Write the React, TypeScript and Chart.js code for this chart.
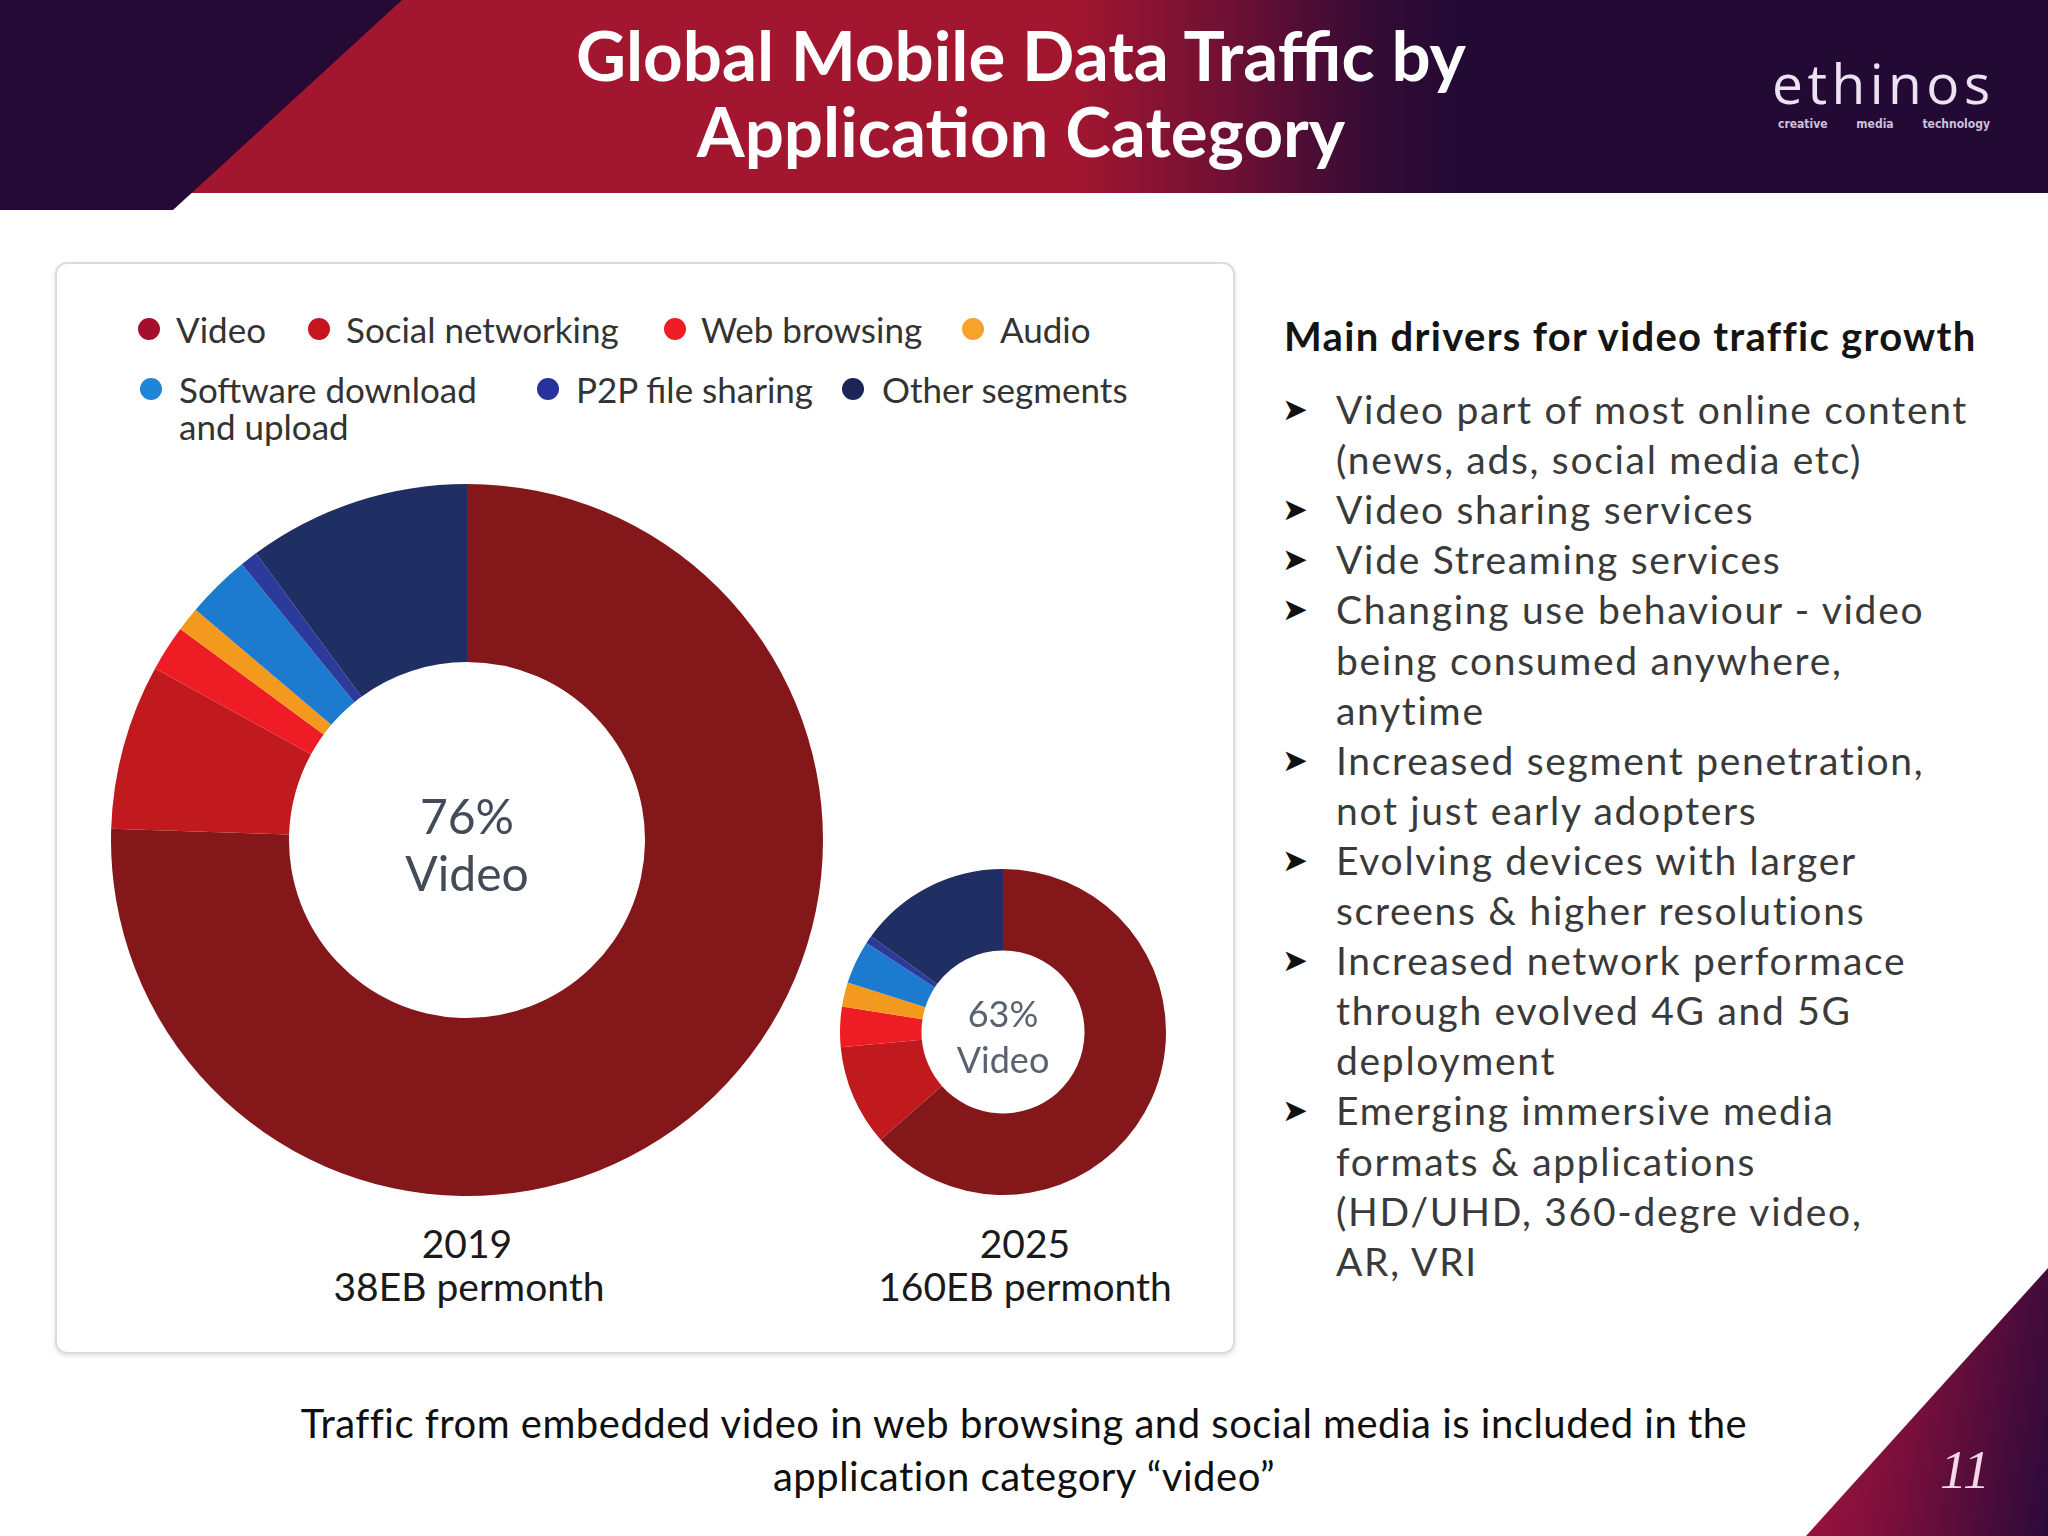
import React, { useEffect, useRef } from "react";
import { Chart, registerables } from "chart.js";

Chart.register(...registerables);

// ---------- Data ----------
const categories = [
  "Video",
  "Social networking",
  "Web browsing",
  "Audio",
  "Software download and upload",
  "P2P file sharing",
  "Other segments",
];
const legendLines = [
  ["Video"],
  ["Social networking"],
  ["Web browsing"],
  ["Audio"],
  ["Software download", "and upload"],
  ["P2P file sharing"],
  ["Other segments"],
];
const values2019 = [75.5, 7.5, 2.1, 1.1, 2.9, 0.8, 10.1];
const values2025 = [63.5, 10.0, 4.0, 2.4, 4.3, 0.8, 15.0];
const sliceColors = ["#84171a", "#c0191e", "#ee1c25", "#f39a1e", "#1d7bcf", "#2c3a9c", "#1f2f63"];
const legendColors = ["#a50f2d", "#c4161c", "#ee1d24", "#f7a22a", "#1f85d6", "#27329c", "#1b2556"];
const years = ["2019", "2025"];
const volumes = ["38EB permonth", "160EB permonth"];
const centerPercents = ["76%", "63%"];
const centerWord = "Video";

const titleLines = ["Global Mobile Data Traffic by", "Application Category"];
const driversHeading = "Main drivers for video traffic growth";
const drivers = [
  ["Video part of most online content", "(news, ads, social media etc)"],
  ["Video sharing services"],
  ["Vide Streaming services"],
  ["Changing use behaviour - video", "being consumed anywhere,", "anytime"],
  ["Increased segment penetration,", "not just early adopters"],
  ["Evolving devices with larger", "screens & higher resolutions"],
  ["Increased network performace", "through evolved 4G and 5G", "deployment"],
  ["Emerging immersive media", "formats & applications", "(HD/UHD, 360-degre video,", "AR, VRI"],
];
const footerLines = [
  "Traffic from embedded video in web browsing and social media is included in the",
  "application category \u201Cvideo\u201D",
];
const pageNumber = "11";

// ---------- Components ----------
type DonutProps = { values: number[]; cx: number; cy: number; r: number };

function Donut({ values, cx, cy, r }: DonutProps) {
  const ref = useRef<HTMLCanvasElement | null>(null);
  useEffect(() => {
    if (!ref.current) return;
    const chart = new Chart(ref.current, {
      type: "doughnut",
      data: {
        labels: categories,
        datasets: [
          {
            data: values,
            backgroundColor: sliceColors,
            borderWidth: 0,
          },
        ],
      },
      options: {
        responsive: false,
        animation: false,
        devicePixelRatio: 1,
        cutout: "50%",
        events: [],
        layout: { padding: 0 },
        plugins: { legend: { display: false }, tooltip: { enabled: false } },
      },
    });
    return () => chart.destroy();
  }, []);
  return (
    <canvas
      ref={ref}
      width={2 * r}
      height={2 * r}
      style={{ position: "absolute", left: cx - r, top: cy - r, width: 2 * r, height: 2 * r }}
    />
  );
}

function CText({
  text,
  cx,
  cy,
  size,
  lh,
  color,
  weight = 400,
  family = "Lato",
  w = 1600,
  ls = 0,
}: {
  text: string;
  cx: number;
  cy: number;
  size: number;
  lh: number;
  color: string;
  weight?: number;
  family?: string;
  w?: number;
  ls?: number;
}) {
  return (
    <div
      style={{
        position: "absolute",
        left: cx - w / 2,
        top: cy - lh / 2,
        width: w,
        height: lh,
        textAlign: "center",
        fontSize: size,
        lineHeight: `${lh}px`,
        color,
        fontWeight: weight,
        fontFamily: family,
        letterSpacing: ls,
        whiteSpace: "nowrap",
      }}
    >
      {text}
    </div>
  );
}

export default function App() {
  const legendPos = [
    { dx: 149, tx: 176, cy: 329 },
    { dx: 319, tx: 346, cy: 329 },
    { dx: 675, tx: 701, cy: 329 },
    { dx: 973, tx: 1000, cy: 329 },
    { dx: 151, tx: 179, cy: 389 },
    { dx: 548, tx: 576, cy: 389 },
    { dx: 853, tx: 882, cy: 389 },
  ];
  const legendLH = 37;

  // drivers lines
  const lineStep = 50.1;
  const firstLineCy = 409;
  let lineIdx = 0;
  const driverEls: React.ReactNode[] = [];
  drivers.forEach((item, i) => {
    item.forEach((ln, j) => {
      const cy = firstLineCy + lineIdx * lineStep;
      if (j === 0) {
        driverEls.push(
          <div
            key={`b${i}`}
            style={{
              position: "absolute",
              left: 1282,
              top: cy - 22,
              width: 34,
              height: 44,
              lineHeight: "44px",
              fontSize: 31,
              color: "#111111",
              fontFamily: "DejaVu Sans",
            }}
          >
            {"\u27A4"}
          </div>
        );
      }
      driverEls.push(
        <div
          key={`l${i}-${j}`}
          style={{
            position: "absolute",
            left: 1336,
            top: cy - 25,
            height: 50,
            lineHeight: "50px",
            fontSize: 39,
            letterSpacing: 1.7,
            color: "#3a3a3a",
            fontFamily: "Lato",
            whiteSpace: "nowrap",
          }}
        >
          {ln}
        </div>
      );
      lineIdx++;
    });
  });

  return (
    <div
      style={{
        position: "absolute",
        left: 0,
        top: 0,
        width: 2048,
        height: 1536,
        overflow: "hidden",
        background: "#ffffff",
        fontFamily: "Lato",
      }}
    >
      {/* Header background */}
      <div style={{ position: "absolute", left: 0, top: 0, width: 2048, height: 193, background: "#220a34" }} />
      <div
        style={{
          position: "absolute",
          left: 0,
          top: 0,
          width: 2048,
          height: 193,
          background:
            "linear-gradient(90deg, #a3162f 0px, #a3162f 1070px, #6e1034 1230px, #350b35 1370px, #220a34 1460px, #220a34 2048px)",
          clipPath: "polygon(400px 0px, 2048px 0px, 2048px 193px, 191px 193px)",
        }}
      />
      <div
        style={{
          position: "absolute",
          left: 0,
          top: 0,
          width: 410,
          height: 210,
          background: "#240a34",
          clipPath: "polygon(0px 0px, 402px 0px, 173px 210px, 0px 210px)",
        }}
      />
      {/* Title */}
      {titleLines.map((t, i) => (
        <CText key={t} text={t} cx={1021} cy={55 + i * 76} size={69} lh={76} color="#ffffff" weight={700} />
      ))}
      {/* Logo */}
      <div
        style={{
          position: "absolute",
          left: 1772,
          top: 48,
          width: 240,
          height: 70,
          lineHeight: "70px",
          fontSize: 55,
          color: "#ece2f2",
          fontFamily: "Open Sans",
          letterSpacing: 4.5,
        }}
      >
        ethinos
      </div>
      <div
        style={{
          position: "absolute",
          left: 1778,
          top: 116,
          width: 212,
          height: 16,
          display: "flex",
          justifyContent: "space-between",
          fontSize: 12,
          lineHeight: "16px",
          fontWeight: 700,
          color: "#cdbfdb",
          fontFamily: "DejaVu Sans Condensed",
        }}
      >
        <span>creative</span>
        <span>media</span>
        <span>technology</span>
      </div>

      {/* Card */}
      <div
        style={{
          position: "absolute",
          left: 55,
          top: 262,
          width: 1176,
          height: 1088,
          border: "2px solid #dcdcdc",
          borderRadius: 12,
          boxShadow: "0 2px 5px rgba(0,0,0,0.12)",
          background: "#ffffff",
        }}
      />

      {/* Legend */}
      {legendLines.map((lines, i) => {
        const p = legendPos[i];
        return (
          <React.Fragment key={categories[i]}>
            <div
              style={{
                position: "absolute",
                left: p.dx - 11,
                top: p.cy - 11,
                width: 22,
                height: 22,
                borderRadius: "50%",
                background: legendColors[i],
              }}
            />
            <div
              style={{
                position: "absolute",
                left: p.tx,
                top: p.cy - legendLH / 2,
                lineHeight: `${legendLH}px`,
                fontSize: 35,
                color: "#333333",
                whiteSpace: "pre",
              }}
            >
              {lines.join("\n")}
            </div>
          </React.Fragment>
        );
      })}

      {/* Donuts */}
      <Donut values={values2019} cx={467} cy={840} r={356} />
      <Donut values={values2025} cx={1003} cy={1032} r={163} />

      {/* Center labels */}
      <CText text={centerPercents[0]} cx={467} cy={815} size={48} lh={57} color="#434b58" w={300} />
      <CText text={centerWord} cx={467} cy={872} size={48} lh={57} color="#434b58" w={300} />
      <CText text={centerPercents[1]} cx={1003} cy={1013} size={36} lh={46} color="#5a6270" w={200} />
      <CText text={centerWord} cx={1003} cy={1059} size={36} lh={46} color="#5a6270" w={200} />

      {/* Year labels */}
      <CText text={years[0]} cx={467} cy={1243} size={39} lh={42} color="#1a1a1a" w={500} />
      <CText text={volumes[0]} cx={469} cy={1286} size={39} lh={42} color="#1a1a1a" w={500} />
      <CText text={years[1]} cx={1025} cy={1243} size={39} lh={42} color="#1a1a1a" w={500} />
      <CText text={volumes[1]} cx={1025} cy={1286} size={39} lh={42} color="#1a1a1a" w={500} />

      {/* Right column */}
      <div
        style={{
          position: "absolute",
          left: 1284,
          top: 336 - 22,
          height: 44,
          lineHeight: "44px",
          fontSize: 40,
          letterSpacing: 1.3,
          fontWeight: 700,
          color: "#141414",
          whiteSpace: "nowrap",
        }}
      >
        {driversHeading}
      </div>
      {driverEls}

      {/* Footer */}
      {footerLines.map((t, i) => (
        <CText key={t} text={t} cx={1024} cy={1423 + i * 53} size={40} lh={53} color="#0f0f0f" w={1900} ls={0.5} />
      ))}

      {/* Bottom right triangle */}
      <div
        style={{
          position: "absolute",
          left: 1806,
          top: 1268,
          width: 242,
          height: 268,
          background: "linear-gradient(100deg, #a8133b 0%, #7a0f3b 45%, #2a0a3a 100%)",
          clipPath: "polygon(242px 0px, 242px 268px, 0px 268px)",
        }}
      />
      <div
        style={{
          position: "absolute",
          left: 1925,
          top: 1440,
          width: 80,
          height: 60,
          lineHeight: "60px",
          fontSize: 54,
          fontStyle: "italic",
          color: "#f3d7ea",
          fontFamily: "Liberation Serif",
          textAlign: "center",
        }}
      >
        {pageNumber}
      </div>
    </div>
  );
}
